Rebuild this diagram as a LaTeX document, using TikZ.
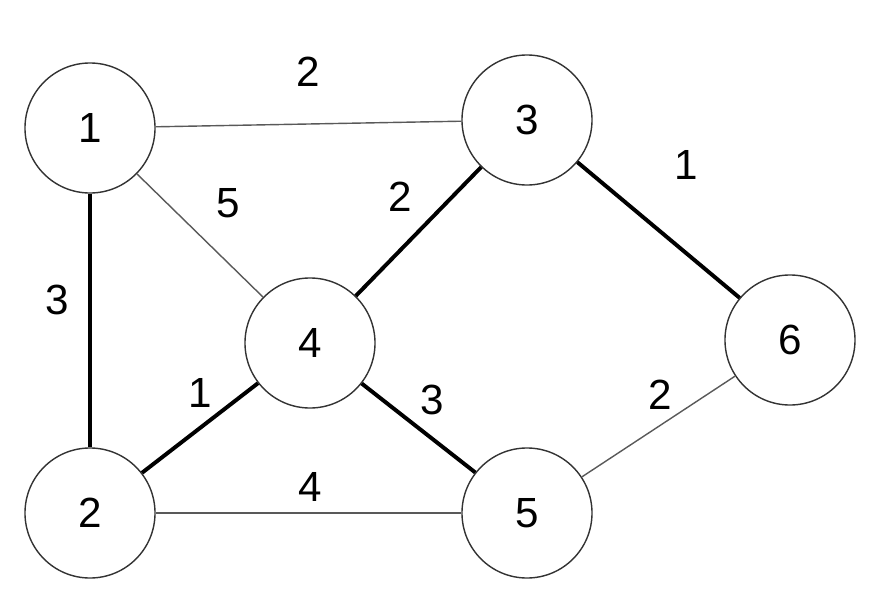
\documentclass[tikz,border=0pt]{standalone}
\usepackage{fontspec}
\setmainfont{Liberation Sans}
\begin{document}
\begin{tikzpicture}[x=0.025cm,y=-0.025cm,
  vert/.style={circle,draw=black!80,line width=1pt,minimum size=3.25cm,inner sep=0pt,fill=white,font=\fontsize{30}{34}\selectfont},
  thin/.style={draw=black!65,line width=1pt},
  thick/.style={draw=black,line width=2.8pt},
  lab/.style={font=\fontsize{30}{34}\selectfont}]
\useasboundingbox (0,0) rectangle (884,612);
\node[vert] (n1) at (90,128) {1};
\node[vert] (n3) at (527,120) {3};
\node[vert] (n4) at (310,343) {4};
\node[vert] (n6) at (790,340) {6};
\node[vert] (n2) at (90,513) {2};
\node[vert] (n5) at (527,513) {5};
\begin{scope}[on background layer/.style={}]
\end{scope}
\draw[thin] (n1) -- (n3);
\draw[thin] (n1) -- (n4);
\draw[thin] (n2) -- (n5);
\draw[thin] (n5) -- (n6);
\draw[thick] (n1) -- (n2);
\draw[thick] (n3) -- (n4);
\draw[thick] (n3) -- (n6);
\draw[thick] (n4) -- (n2);
\draw[thick] (n4) -- (n5);
\node[lab] (l13) at (308,72) {2};
\node[lab] (l14) at (228,203) {5};
\node[lab] (l12) at (57,300) {3};
\node[lab] (l34) at (400,197) {2};
\node[lab] (l36) at (686,165) {1};
\node[lab] (l42) at (200,393) {1};
\node[lab] (l45) at (432,400) {3};
\node[lab] (l25) at (310,487) {4};
\node[lab] (l56) at (660,395) {2};
\end{tikzpicture}
\end{document}
